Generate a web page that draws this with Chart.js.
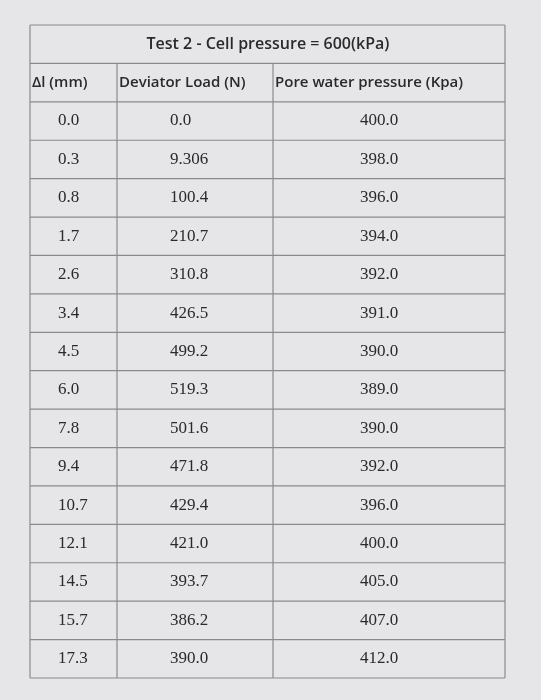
<!DOCTYPE html>
<html><head><meta charset="utf-8">
<script src="https://cdn.jsdelivr.net/npm/chart.js@4"></script>
<style>html,body{margin:0;padding:0;background:#e6e6e8;}#w{width:541px;height:700px;}</style>
</head><body><div id="w"><canvas id="c"></canvas></div>
<script>
const title = "Test 2 - Cell pressure = 600(kPa)";
const headers = ["Δl (mm)", "Deviator Load (N)", "Pore water pressure (Kpa)"];
const deltaL = ["0.0","0.3","0.8","1.7","2.6","3.4","4.5","6.0","7.8","9.4","10.7","12.1","14.5","15.7","17.3"];
const deviatorLoad = ["0.0","9.306","100.4","210.7","310.8","426.5","499.2","519.3","501.6","471.8","429.4","421.0","393.7","386.2","390.0"];
const porePressure = ["400.0","398.0","396.0","394.0","392.0","391.0","390.0","389.0","390.0","392.0","396.0","400.0","405.0","407.0","412.0"];
const colEdges = [0, 87, 243, 475];
const textX = [28, 140, 330];
const nRows = deltaL.length;

const tablePlugin = {
  id: 'table',
  afterDraw(chart) {
    const ctx = chart.ctx, xs = chart.scales.x, ys = chart.scales.y;
    const X = v => xs.getPixelForValue(v), Y = v => ys.getPixelForValue(v);
    ctx.save();
    ctx.strokeStyle = '#8a8a8e'; ctx.lineWidth = 1.2;
    for (let r = -2; r <= nRows; r++) {
      ctx.beginPath(); ctx.moveTo(X(colEdges[0]), Y(r)); ctx.lineTo(X(colEdges[3]), Y(r)); ctx.stroke();
    }
    colEdges.forEach((c, i) => {
      const top = (i === 0 || i === 3) ? -2 : -1;
      ctx.beginPath(); ctx.moveTo(X(c), Y(top)); ctx.lineTo(X(c), Y(nRows)); ctx.stroke();
    });
    ctx.fillStyle = '#2a2a2c'; ctx.textBaseline = 'middle';
    ctx.font = '600 16px "Open Sans", sans-serif'; ctx.textAlign = 'center';
    ctx.fillText(title, X(238), Y(-1.5));
    ctx.textAlign = 'left';
    ctx.font = '600 15px "Open Sans", sans-serif';
    ctx.fillText(headers[0], X(2), Y(-0.5));
    ctx.fillText(headers[1], X(89), Y(-0.5));
    ctx.fillText(headers[2], X(245), Y(-0.5));
    ctx.font = '17px "Liberation Serif", serif';
    const cols = [deltaL, deviatorLoad, porePressure];
    for (let r = 0; r < nRows; r++) {
      cols.forEach((arr, c) => ctx.fillText(arr[r], X(textX[c]), Y(r + 0.5)));
    }
    ctx.restore();
  }
};

new Chart(document.getElementById('c'), {
  type: 'scatter',
  data: { datasets: [{ data: deltaL.map((v, i) => ({x: textX[0], y: i + 0.5})), pointRadius: 0 }] },
  options: {
    responsive: true, maintainAspectRatio: false, animation: false,
    layout: { padding: { left: 30, right: 36, top: 25, bottom: 22 } },
    plugins: { legend: { display: false }, tooltip: { enabled: false } },
    scales: {
      x: { type: 'linear', min: 0, max: 475, display: false },
      y: { type: 'linear', min: -2, max: nRows, reverse: true, display: false }
    }
  },
  plugins: [tablePlugin]
});
</script></body></html>
